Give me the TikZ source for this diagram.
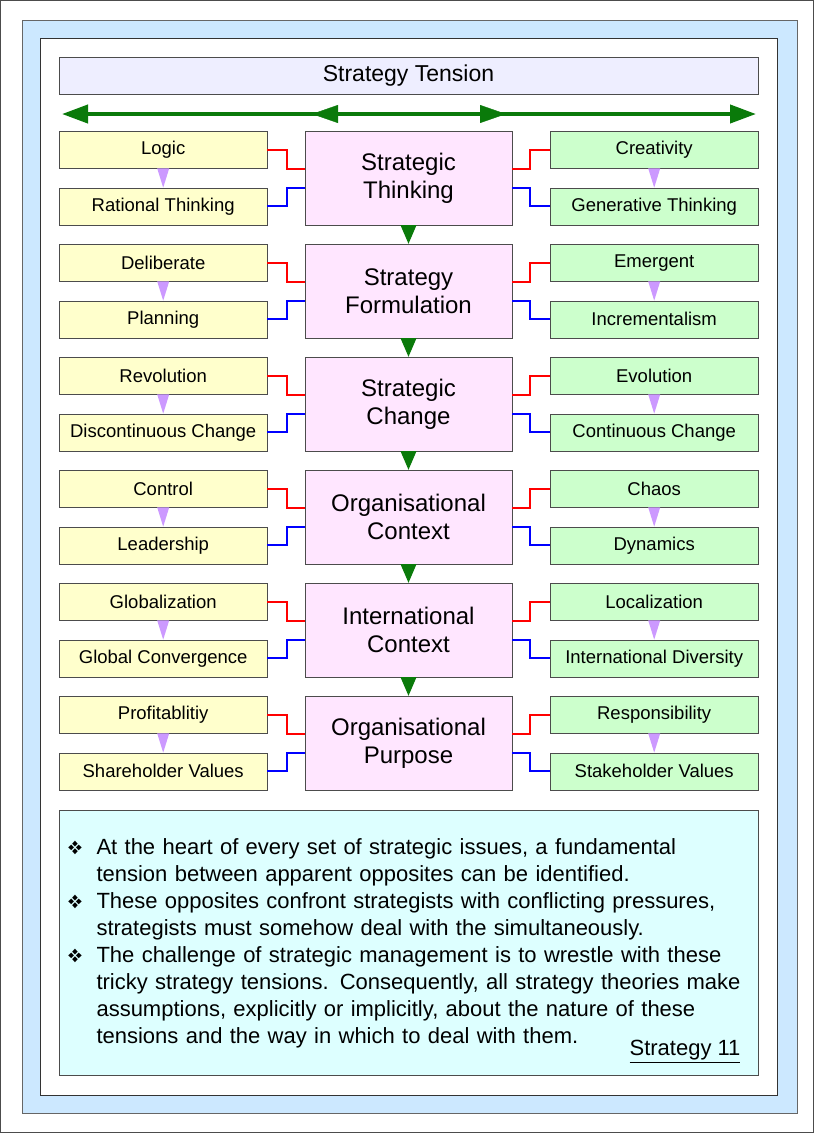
\documentclass[tikz,border=0pt]{standalone}
\usepackage{fontspec}
\setmainfont{Liberation Sans}
\usepackage{pifont}
\usetikzlibrary{arrows.meta}
\definecolor{lav}{HTML}{EEEEFF}
\definecolor{yel}{HTML}{FFFFCC}
\definecolor{grn}{HTML}{CCFFCC}
\definecolor{pnk}{HTML}{FFE6FF}
\definecolor{cyn}{HTML}{DDFFFF}
\definecolor{sky}{HTML}{CCE8FF}
\definecolor{dgreen}{HTML}{0A7A0A}
\definecolor{tri}{HTML}{CC99FF}
\tikzset{
  box/.style={draw=black!70, minimum width=208pt, minimum height=37pt, inner sep=0pt,
    font=\fontsize{18.5}{20}\selectfont},
  mid/.style={draw=black!70, fill=pnk, minimum width=207pt, minimum height=94pt, inner sep=0pt,
    align=center, font=\fontsize{24}{28}\selectfont},
  link/.style={line width=2pt},
}
\newcommand\bul{\makebox[29pt][l]{\fontsize{19}{19}\selectfont\ding{118}}}
\begin{document}
\begin{tikzpicture}[x=1pt, y=-1pt]
\useasboundingbox (0,0) rectangle (814,1133);
\draw[black!70, fill=white] (0.5,0.5) rectangle (813.5,1132.5);
\draw[black!60, fill=sky] (22,20) rectangle (797,1113);
\draw[black!80, fill=white] (40,38) rectangle (777,1095);
\node[draw=black!70, fill=lav, minimum width=699pt, minimum height=37pt,
  font=\fontsize{23}{26}\selectfont] (title) at (408.5,75.5) {Strategy Tension};

% the big tension arrow
\coordinate (aL) at (62,114);
\coordinate (aR) at (756,114);
\coordinate (aM) at (420,114);
\draw[dgreen, line width=4pt, -{Triangle[length=26pt,width=18pt]}] (aM) -- (aL);
\draw[dgreen, line width=4pt, -{Triangle[length=26pt,width=18pt]}] (aM) -- (aR);
\draw[dgreen, -{Triangle[length=26pt,width=18pt]}] (aM) -- (312,114);
\draw[dgreen, -{Triangle[length=26pt,width=18pt]}] (aM) -- (506,114);

\foreach \i/\ml/\la/\lb/\ra/\rb in {
  1/Strategic\\Thinking/Logic/Rational Thinking/Creativity/Generative Thinking,
  2/Strategy\\Formulation/Deliberate/Planning/Emergent/Incrementalism,
  3/Strategic\\Change/Revolution/Discontinuous Change/Evolution/Continuous Change,
  4/Organisational\\Context/Control/Leadership/Chaos/Dynamics,
  5/International\\Context/Globalization/Global Convergence/Localization/International Diversity,
  6/Organisational\\Purpose/Profitablitiy/Shareholder Values/Responsibility/Stakeholder Values}{
  \pgfmathsetmacro{\y}{178+113*(\i-1)}
  \node[mid] (c\i) at (408.5,\y) {\ml};
  \node[box, fill=yel, anchor=north west] (la\i) at (59,\y-47) {\la};
  \node[box, fill=yel, anchor=south west] (lb\i) at (59,\y+47) {\lb};
  \node[box, fill=grn, anchor=north west] (ra\i) at (550,\y-47) {\ra};
  \node[box, fill=grn, anchor=south west] (rb\i) at (550,\y+47) {\rb};
  \draw[link, red] (la\i.east) -- ++(20,0) |- ([yshift=9.5]c\i.west);
  \draw[link, red] (ra\i.west) -- ++(-20,0) |- ([yshift=9.5]c\i.east);
  \draw[link, blue] (lb\i.east) -- ++(20,0) |- ([yshift=-9.5]c\i.west);
  \draw[link, blue] (rb\i.west) -- ++(-20,0) |- ([yshift=-9.5]c\i.east);
  \fill[tri] ([xshift=-6]la\i.south) -- ([xshift=6]la\i.south) -- (lb\i.north) -- cycle;
  \fill[tri] ([xshift=-6]ra\i.south) -- ([xshift=6]ra\i.south) -- (rb\i.north) -- cycle;
}
\foreach \i [evaluate=\i as \j using int(\i+1)] in {1,...,5}
  \fill[dgreen] ([xshift=-8]c\i.south) -- ([xshift=8]c\i.south) -- (c\j.north) -- cycle;

\node[draw=black!70, fill=cyn, minimum width=699pt, minimum height=265pt] (note) at (408.5,942.5) {};
\node[anchor=north west, text width=690pt, font=\fontsize{22}{27}\selectfont, align=left]
  (txt) at (64,835) {%
  \bul At the heart of every set of strategic issues, a fundamental\\
  \hspace*{29pt}tension between apparent opposites can be identified.\\
  \bul These opposites confront strategists with conflicting pressures,\\
  \hspace*{29pt}strategists must somehow deal with the simultaneously.\\
  \bul The challenge of strategic management is to wrestle with these\\
  \hspace*{29pt}tricky strategy tensions. Consequently, all strategy theories make\\
  \hspace*{29pt}assumptions, explicitly or implicitly, about the nature of these\\
  \hspace*{29pt}tensions and the way in which to deal with them.};
\node[anchor=south east, font=\fontsize{22}{24}\selectfont] (tag) at (744,1066) {\underline{Strategy 11}};
\end{tikzpicture}
\end{document}
